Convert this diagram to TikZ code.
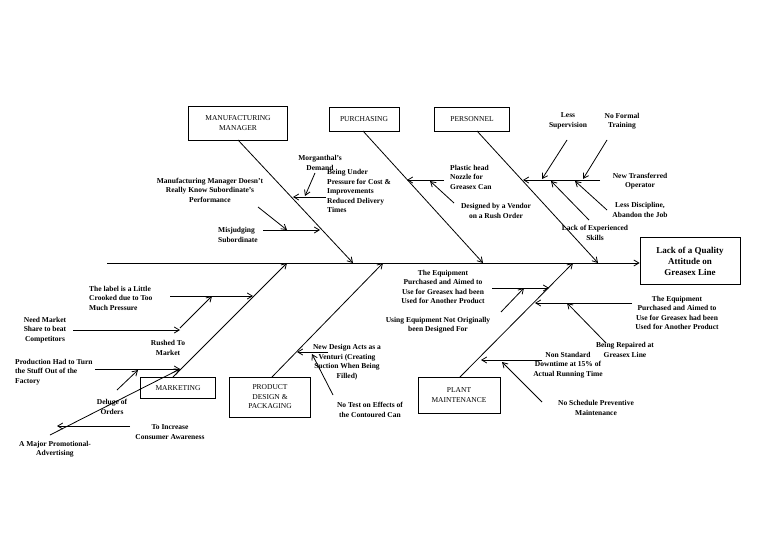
\documentclass[tikz,border=0pt]{standalone}
\usepackage{fontspec}
\setmainfont{Liberation Serif}
\usetikzlibrary{arrows.meta}
\begin{document}
\begin{tikzpicture}[x=1pt,y=-1pt,
  lbl/.style={font=\bfseries\fontsize{7.5}{9.5}\selectfont,align=center,inner sep=1pt},
  lbll/.style={lbl,align=left},
  cat/.style={draw,thick,font=\fontsize{7.5}{9.5}\selectfont,align=center,inner sep=2pt},
  arr/.style={thick,-{Straight Barb[length=5pt,width=6pt]}},
  ln/.style={thick}]
\useasboundingbox (0,0) rectangle (768,543);
% spine and effect
\node[draw,thick,font=\bfseries\fontsize{9}{11}\selectfont,align=center,minimum width=100pt,minimum height=47pt] (eff) at (690,261) {Lack of a Quality\\Attitude on\\Greasex Line};
\coordinate (tail) at (107,263);
\draw[arr] (tail) -- (eff.west|-tail);
% categories
\node[cat,minimum width=99pt,minimum height=34pt] (mm) at (238,123) {MANUFACTURING\\MANAGER};
\node[cat,minimum width=70pt,minimum height=24pt] (pu) at (364,119) {PURCHASING};
\node[cat,minimum width=75pt,minimum height=24pt] (pe) at (472,119) {PERSONNEL};
\node[cat,minimum width=75pt,minimum height=21pt] (mk) at (178,388) {MARKETING};
\node[cat,minimum width=81pt,minimum height=40pt] (pd) at (270,397) {PRODUCT\\DESIGN \&\\PACKAGING};
\node[cat,minimum width=82pt,minimum height=36pt] (pm) at (459,395) {PLANT\\MAINTENANCE};
\coordinate (mmE) at (353,263); \coordinate (puE) at (483,263); \coordinate (peE) at (598,263);
\coordinate (mkE) at (287,263); \coordinate (pdE) at (383,263); \coordinate (pmE) at (573,263);
\draw[arr] (238,140) -- (mmE);
\draw[arr] (363,131) -- (puE);
\draw[arr] (477,131) -- (peE);
\draw[arr] (173,377) -- (mkE);
\draw[arr] (272,377) -- (pdE);
\draw[arr] (460,377) -- (pmE);
% manufacturing manager causes
\node[lbl] (morg) at (320,163) {Morganthal's\\Demand};
\node[lbll,anchor=west] (under) at (326,191) {Being Under\\Pressure for Cost \&\\Improvements\\Reduced Delivery\\Times};
\coordinate (c1) at (293,197);
\draw[arr] (under.west|-c1) -- (c1);
\draw[arr] (315,173) -- (305,196);
\node[lbl] (know) at (210,190) {Manufacturing Manager Doesn't\\Really Know Subordinate's\\Performance};
\node[lbll] (mis) at (238,235) {Misjudging\\Subordinate};
\coordinate (c2) at (320,230);
\draw[arr] (263,230) -- (c2);
\draw[arr] (258,207) -- (287,230);
% purchasing causes
\node[lbll,anchor=west] (noz) at (449,177) {Plastic head\\Nozzle for\\Greasex Can};
\draw[arr] (444,180) -- (407,180);
\node[lbl] (vend) at (496,211) {Designed by a Vendor\\on a Rush Order};
\draw[arr] (454,203) -- (430,181);
% personnel causes
\node[lbl] (newop) at (640,181) {New Transferred\\Operator};
\draw[arr] (600,180) -- (523,180);
\node[lbl] (lsup) at (568,121) {Less\\Supervision};
\node[lbl] (nft) at (622,121) {No Formal\\Training};
\draw[arr] (567,140) -- (542,179);
\draw[arr] (607,140) -- (583,179);
\node[lbl] (ldis) at (640,210) {Less Discipline,\\Abandon the Job};
\draw[arr] (607,210) -- (575,181);
\node[lbl] (lexp) at (595,233) {Lack of Experienced\\Skills};
\draw[arr] (589,220) -- (551,181);
% marketing causes
\node[lbll,anchor=west] (label) at (88,298) {The label is a Little\\Crooked due to Too\\Much Pressure};
\draw[arr] (170,296) -- (253,296);
\draw[arr] (180,328) -- (212,296);
\node[lbl] (nms) at (45,330) {Need Market\\Share to beat\\Competitors};
\draw[arr] (73,330) -- (180,330);
\node[lbl] (rush) at (168,348) {Rushed To\\Market};
\node[lbll,anchor=west] (prod) at (14,372) {Production Had to Turn\\the Stuff Out of the\\Factory};
\draw[arr] (95,369) -- (180,369);
\draw[arr] (50,435) -- (180,369);
\draw[arr] (117,390) -- (138,370);
\node[lbl] (del) at (112,407) {Deluge of\\Orders};
\node[lbl] (inc) at (170,432) {To Increase\\Consumer Awareness};
\draw[arr] (130,426) -- (57,426);
\node[lbl] (maj) at (55,449) {A Major Promotional-\\Advertising};
% product design causes
\node[lbl] (ven) at (347,362) {New Design Acts as a\\Venturi (Creating\\Suction When Being\\Filled)};
\draw[arr] (328,352) -- (297,352);
\node[lbl] (nt) at (370,410) {No Test on Effects of\\the Contoured Can};
\draw[arr] (333,395) -- (312,354);
% plant maintenance causes
\node[lbl] (eq1) at (443,287) {The Equipment\\Purchased and Aimed to\\Use for Greasex had been\\Used for Another Product};
\draw[arr] (492,288) -- (549,288);
\node[lbl] (using) at (438,325) {Using Equipment Not Originally\\been Designed For};
\draw[arr] (501,312) -- (524,288);
\node[lbl] (eq2) at (677,313) {The Equipment\\Purchased and Aimed to\\Use for Greasex had been\\Used for Another Product};
\draw[arr] (632,303) -- (535,303);
\node[lbl] (rep) at (625,350) {Being Repaired at\\Greasex Line};
\draw[arr] (606,343) -- (567,303);
\node[lbl] (nsd) at (568,365) {Non Standard\\Downtime at 15\% of\\Actual Running Time};
\draw[arr] (542,360) -- (481,360);
\node[lbl] (nsp) at (596,408) {No Schedule Preventive\\Maintenance};
\draw[arr] (542,402) -- (502,362);
\end{tikzpicture}
\end{document}
